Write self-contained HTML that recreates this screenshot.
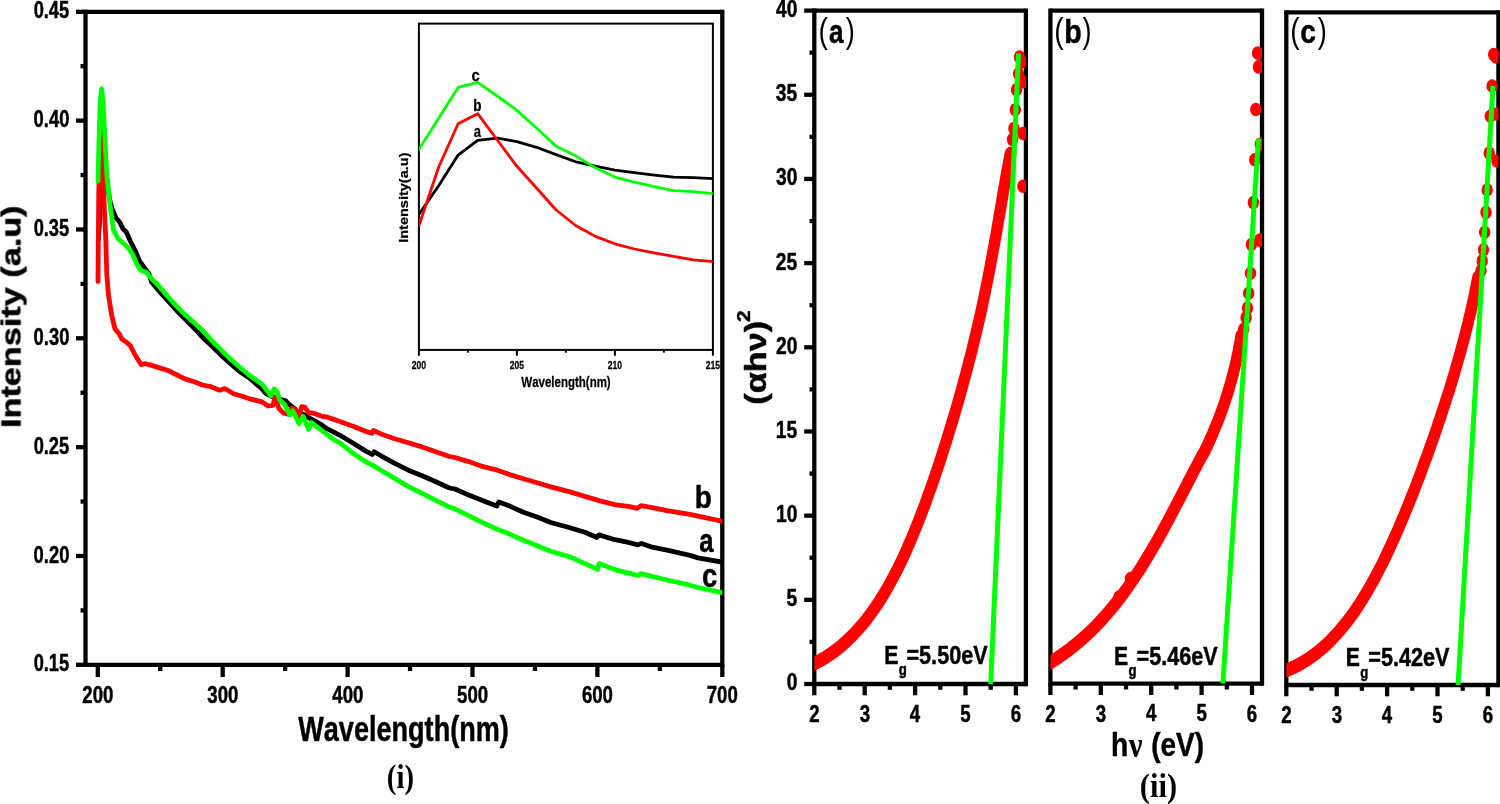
<!DOCTYPE html>
<html><head><meta charset="utf-8"><style>
html,body{margin:0;padding:0;background:#fff;}
body{width:1500px;height:804px;overflow:hidden;}
svg{display:block;}
text{font-kerning:none;}
</style></head><body>
<svg width="1500" height="804" viewBox="0 0 1500 804">
<rect x="0" y="0" width="1500" height="804" fill="#fff"/>
<g opacity="0.999">
<clipPath id="c1"><rect x="85.5" y="11.8" width="636.8" height="653.0"/></clipPath>
<line x1="85.50" y1="11.80" x2="722.30" y2="11.80" stroke="#000" stroke-width="4.3" stroke-linecap="butt"/>
<line x1="85.50" y1="664.80" x2="722.30" y2="664.80" stroke="#000" stroke-width="4.3" stroke-linecap="butt"/>
<line x1="85.50" y1="9.65" x2="85.50" y2="666.95" stroke="#000" stroke-width="4.3" stroke-linecap="butt"/>
<line x1="722.30" y1="9.65" x2="722.30" y2="666.95" stroke="#000" stroke-width="4.3" stroke-linecap="butt"/>
<line x1="76.00" y1="664.80" x2="85.50" y2="664.80" stroke="#000" stroke-width="4.3" stroke-linecap="butt"/>
<line x1="80.50" y1="610.38" x2="85.50" y2="610.38" stroke="#000" stroke-width="4.3" stroke-linecap="butt"/>
<line x1="76.00" y1="555.97" x2="85.50" y2="555.97" stroke="#000" stroke-width="4.3" stroke-linecap="butt"/>
<line x1="80.50" y1="501.55" x2="85.50" y2="501.55" stroke="#000" stroke-width="4.3" stroke-linecap="butt"/>
<line x1="76.00" y1="447.13" x2="85.50" y2="447.13" stroke="#000" stroke-width="4.3" stroke-linecap="butt"/>
<line x1="80.50" y1="392.72" x2="85.50" y2="392.72" stroke="#000" stroke-width="4.3" stroke-linecap="butt"/>
<line x1="76.00" y1="338.30" x2="85.50" y2="338.30" stroke="#000" stroke-width="4.3" stroke-linecap="butt"/>
<line x1="80.50" y1="283.88" x2="85.50" y2="283.88" stroke="#000" stroke-width="4.3" stroke-linecap="butt"/>
<line x1="76.00" y1="229.47" x2="85.50" y2="229.47" stroke="#000" stroke-width="4.3" stroke-linecap="butt"/>
<line x1="80.50" y1="175.05" x2="85.50" y2="175.05" stroke="#000" stroke-width="4.3" stroke-linecap="butt"/>
<line x1="76.00" y1="120.63" x2="85.50" y2="120.63" stroke="#000" stroke-width="4.3" stroke-linecap="butt"/>
<line x1="80.50" y1="66.22" x2="85.50" y2="66.22" stroke="#000" stroke-width="4.3" stroke-linecap="butt"/>
<line x1="76.00" y1="11.80" x2="85.50" y2="11.80" stroke="#000" stroke-width="4.3" stroke-linecap="butt"/>
<line x1="97.80" y1="664.80" x2="97.80" y2="677.00" stroke="#000" stroke-width="4.3" stroke-linecap="butt"/>
<line x1="222.70" y1="664.80" x2="222.70" y2="677.00" stroke="#000" stroke-width="4.3" stroke-linecap="butt"/>
<line x1="347.60" y1="664.80" x2="347.60" y2="677.00" stroke="#000" stroke-width="4.3" stroke-linecap="butt"/>
<line x1="472.50" y1="664.80" x2="472.50" y2="677.00" stroke="#000" stroke-width="4.3" stroke-linecap="butt"/>
<line x1="597.40" y1="664.80" x2="597.40" y2="677.00" stroke="#000" stroke-width="4.3" stroke-linecap="butt"/>
<line x1="722.30" y1="664.80" x2="722.30" y2="677.00" stroke="#000" stroke-width="4.3" stroke-linecap="butt"/>
<line x1="160.25" y1="664.80" x2="160.25" y2="671.00" stroke="#000" stroke-width="4.3" stroke-linecap="butt"/>
<line x1="285.15" y1="664.80" x2="285.15" y2="671.00" stroke="#000" stroke-width="4.3" stroke-linecap="butt"/>
<line x1="410.05" y1="664.80" x2="410.05" y2="671.00" stroke="#000" stroke-width="4.3" stroke-linecap="butt"/>
<line x1="534.95" y1="664.80" x2="534.95" y2="671.00" stroke="#000" stroke-width="4.3" stroke-linecap="butt"/>
<line x1="659.85" y1="664.80" x2="659.85" y2="671.00" stroke="#000" stroke-width="4.3" stroke-linecap="butt"/>
<g clip-path="url(#c1)">
<path d="M98.3,240.0 L100.0,215.0 L101.5,195.0 L102.3,165.0 L103.0,150.0 L104.5,160.0 L107.0,180.0 L109.7,200.0 L112.0,208.5 L116.0,218.0 L120.0,222.5 L123.0,229.0 L126.3,232.0 L129.8,240.0 L135.1,250.5 L139.4,260.9 L143.8,267.0 L149.0,274.0 L151.7,282.2 L160.5,292.6 L169.2,302.2 L177.9,311.8 L186.6,320.5 L195.3,329.2 L204.0,338.8 L212.7,346.7 L221.4,355.4 L230.1,363.2 L238.9,371.0 L249.3,378.0 L262.0,388.9 L266.1,393.7 L272.0,396.5 L278.0,398.5 L283.0,400.0 L285.3,400.5 L289.4,404.7 L294.9,408.8 L299.0,415.6 L303.1,414.2 L310.0,418.4 L322.0,425.2 L325.8,428.0 L340.0,435.3 L353.7,443.5 L364.6,450.4 L372.1,454.5 L374.2,451.7 L381.0,455.8 L394.7,463.4 L408.4,470.2 L422.1,475.7 L435.8,481.8 L449.4,488.0 L455.0,489.0 L468.7,495.1 L482.4,500.6 L496.7,506.1 L498.8,502.0 L509.7,506.1 L523.4,512.2 L537.1,517.0 L550.8,522.5 L570.0,527.8 L584.9,532.2 L596.9,537.5 L599.1,534.9 L614.8,539.7 L629.7,542.7 L637.9,544.9 L641.6,543.4 L652.1,547.2 L667.0,550.1 L690.0,555.4 L698.0,557.9 L723.0,562.3" fill="none" stroke="#000" stroke-width="4.8" stroke-linejoin="round" stroke-linecap="round" />
<path d="M98.0,281.5 L98.3,240.0 L98.8,190.0 L100.5,150.0 L101.8,131.0 L103.0,160.0 L104.0,200.0 L105.8,240.0 L106.8,274.8 L108.6,295.7 L111.6,314.9 L115.0,328.9 L119.4,334.1 L122.0,339.3 L127.2,342.8 L130.7,346.3 L135.1,355.0 L141.2,364.6 L145.5,363.7 L150.0,364.9 L158.7,367.6 L167.4,370.2 L176.1,374.5 L184.8,378.9 L193.6,381.5 L202.3,385.0 L211.0,386.7 L219.7,390.2 L224.9,388.5 L233.6,393.7 L242.3,396.3 L250.0,398.9 L262.0,401.9 L268.2,406.0 L273.0,405.3 L275.0,397.1 L279.1,408.8 L283.2,412.9 L288.0,414.2 L292.1,408.1 L296.2,410.8 L299.0,417.0 L301.7,406.7 L305.2,407.4 L308.6,412.9 L312.7,412.9 L322.0,416.3 L325.8,416.7 L340.0,421.6 L353.7,426.4 L367.4,431.9 L372.1,433.3 L373.5,430.5 L381.0,433.9 L394.7,438.7 L408.4,442.8 L422.1,446.9 L435.8,451.7 L449.4,456.5 L455.0,457.5 L468.7,461.6 L482.4,466.4 L496.0,469.8 L509.7,474.6 L523.4,478.7 L537.1,482.8 L550.8,486.9 L570.0,491.9 L584.9,496.4 L599.9,500.9 L614.8,504.6 L629.7,506.6 L637.2,508.4 L640.9,505.7 L652.1,507.6 L667.0,510.6 L690.0,514.3 L698.0,516.1 L723.0,521.4" fill="none" stroke="#ff0000" stroke-width="4.8" stroke-linejoin="round" stroke-linecap="round" />
<path d="M98.0,181.0 L99.0,140.0 L100.3,100.0 L101.7,89.0 L103.0,100.0 L104.5,130.0 L106.0,160.0 L107.2,180.0 L110.7,210.0 L113.5,230.0 L118.0,238.7 L122.0,242.0 L126.0,245.6 L128.1,247.8 L132.5,253.9 L136.8,264.4 L141.2,270.5 L146.4,272.2 L150.0,277.0 L158.7,285.7 L167.4,296.1 L176.1,305.7 L184.8,314.4 L193.6,322.3 L202.3,330.1 L211.0,339.7 L219.7,348.4 L228.4,357.1 L237.1,365.0 L248.4,374.5 L262.0,384.1 L270.9,395.8 L274.0,388.9 L277.1,391.6 L279.8,399.9 L284.6,404.7 L290.1,414.9 L292.8,410.8 L299.0,423.8 L303.1,416.3 L308.6,429.3 L311.3,422.5 L322.0,430.7 L334.5,440.2 L340.0,442.8 L353.7,453.8 L367.4,462.7 L374.2,466.1 L381.0,470.2 L394.7,478.4 L408.4,486.6 L422.1,493.4 L435.8,500.3 L449.4,507.1 L455.0,508.8 L468.7,515.7 L482.4,522.5 L496.0,528.7 L509.7,534.1 L523.4,540.3 L537.1,545.8 L550.8,551.2 L570.0,556.9 L584.9,563.6 L597.6,569.3 L599.1,563.6 L614.8,569.6 L629.7,573.3 L637.9,575.5 L640.9,573.7 L652.1,576.3 L667.0,580.0 L690.0,585.2 L698.0,587.5 L723.0,592.8" fill="none" stroke="#00ff00" stroke-width="4.8" stroke-linejoin="round" stroke-linecap="round" />
</g>
<text transform="translate(33.63,671.42) scale(0.7512,1)" style="font-family:'Liberation Sans', sans-serif;font-weight:bold;font-style:normal;font-size:24.300px" fill="#000" stroke="#000" stroke-width="0.5" stroke-linejoin="round">0.15</text>
<text transform="translate(33.62,562.58) scale(0.7566,1)" style="font-family:'Liberation Sans', sans-serif;font-weight:bold;font-style:normal;font-size:24.300px" fill="#000" stroke="#000" stroke-width="0.5" stroke-linejoin="round">0.20</text>
<text transform="translate(33.63,453.75) scale(0.7512,1)" style="font-family:'Liberation Sans', sans-serif;font-weight:bold;font-style:normal;font-size:24.300px" fill="#000" stroke="#000" stroke-width="0.5" stroke-linejoin="round">0.25</text>
<text transform="translate(33.62,344.92) scale(0.7566,1)" style="font-family:'Liberation Sans', sans-serif;font-weight:bold;font-style:normal;font-size:24.300px" fill="#000" stroke="#000" stroke-width="0.5" stroke-linejoin="round">0.30</text>
<text transform="translate(33.63,236.08) scale(0.7512,1)" style="font-family:'Liberation Sans', sans-serif;font-weight:bold;font-style:normal;font-size:24.300px" fill="#000" stroke="#000" stroke-width="0.5" stroke-linejoin="round">0.35</text>
<text transform="translate(33.62,127.25) scale(0.7566,1)" style="font-family:'Liberation Sans', sans-serif;font-weight:bold;font-style:normal;font-size:24.300px" fill="#000" stroke="#000" stroke-width="0.5" stroke-linejoin="round">0.40</text>
<text transform="translate(33.63,18.42) scale(0.7512,1)" style="font-family:'Liberation Sans', sans-serif;font-weight:bold;font-style:normal;font-size:24.300px" fill="#000" stroke="#000" stroke-width="0.5" stroke-linejoin="round">0.45</text>
<text transform="translate(82.31,703.02) scale(0.8000,1)" style="font-family:'Liberation Sans', sans-serif;font-weight:bold;font-style:normal;font-size:23.300px" fill="#000" stroke="#000" stroke-width="0.5" stroke-linejoin="round">200</text>
<text transform="translate(207.32,703.02) scale(0.8000,1)" style="font-family:'Liberation Sans', sans-serif;font-weight:bold;font-style:normal;font-size:23.300px" fill="#000" stroke="#000" stroke-width="0.5" stroke-linejoin="round">300</text>
<text transform="translate(332.29,703.02) scale(0.8000,1)" style="font-family:'Liberation Sans', sans-serif;font-weight:bold;font-style:normal;font-size:23.300px" fill="#000" stroke="#000" stroke-width="0.5" stroke-linejoin="round">400</text>
<text transform="translate(457.05,703.02) scale(0.8000,1)" style="font-family:'Liberation Sans', sans-serif;font-weight:bold;font-style:normal;font-size:23.300px" fill="#000" stroke="#000" stroke-width="0.5" stroke-linejoin="round">500</text>
<text transform="translate(581.89,703.02) scale(0.8000,1)" style="font-family:'Liberation Sans', sans-serif;font-weight:bold;font-style:normal;font-size:23.300px" fill="#000" stroke="#000" stroke-width="0.5" stroke-linejoin="round">600</text>
<text transform="translate(706.73,703.02) scale(0.8000,1)" style="font-family:'Liberation Sans', sans-serif;font-weight:bold;font-style:normal;font-size:23.300px" fill="#000" stroke="#000" stroke-width="0.5" stroke-linejoin="round">700</text>
<text transform="translate(298.22,740.97) scale(0.7630,1)" style="font-family:'Liberation Sans', sans-serif;font-weight:bold;font-style:normal;font-size:35.500px" fill="#000" stroke="#000" stroke-width="0.5" stroke-linejoin="round">Wavelength(nm)</text>
<text transform="translate(20.50,427.99) rotate(-90) scale(1.2235,1)" style="font-family:'Liberation Sans', sans-serif;font-weight:bold;font-size:28.0px" stroke="#000" stroke-width="0.5" stroke-linejoin="round">Intensity (a.u)</text>
<text transform="translate(386.84,788.00) scale(0.8379,1)" style="font-family:'Liberation Serif', serif;font-weight:bold;font-style:normal;font-size:34.299px" fill="#000">(i)</text>
<text transform="translate(694.71,507.84) scale(0.8782,1)" style="font-family:'Liberation Sans', sans-serif;font-weight:bold;font-style:normal;font-size:31.864px" fill="#000" stroke="#000" stroke-width="0.5" stroke-linejoin="round">b</text>
<text transform="translate(699.20,551.83) scale(0.7734,1)" style="font-family:'Liberation Sans', sans-serif;font-weight:bold;font-style:normal;font-size:33.221px" fill="#000" stroke="#000" stroke-width="0.5" stroke-linejoin="round">a</text>
<text transform="translate(701.88,586.93) scale(0.8269,1)" style="font-family:'Liberation Sans', sans-serif;font-weight:bold;font-style:normal;font-size:33.221px" fill="#000" stroke="#000" stroke-width="0.5" stroke-linejoin="round">c</text>
<rect x="418.9" y="23.6" width="294.0" height="326.29999999999995" fill="#fff" stroke="none"/>
<clipPath id="ci"><rect x="418.9" y="23.6" width="294.0" height="326.29999999999995"/></clipPath>
<rect x="418.9" y="23.6" width="294.0" height="326.29999999999995" fill="none" stroke="#000" stroke-width="2"/>
<g clip-path="url(#ci)">
<path d="M418.9,214.5 L438.5,186.0 L458.1,155.1 L477.7,140.3 L497.3,138.2 L516.9,141.7 L536.5,147.3 L556.1,154.6 L575.7,161.8 L595.3,166.2 L614.9,170.1 L634.5,172.7 L654.1,175.1 L673.7,177.1 L693.3,177.7 L712.9,178.7" fill="none" stroke="#000" stroke-width="2.8" stroke-linejoin="round" stroke-linecap="round" />
<path d="M418.9,225.7 L438.5,167.5 L458.1,123.8 L477.7,113.7 L497.3,140.0 L516.9,166.3 L536.5,188.0 L556.1,210.0 L575.7,225.5 L595.3,236.4 L614.9,243.8 L634.5,249.0 L654.1,252.9 L673.7,256.3 L693.3,259.9 L712.9,261.7" fill="none" stroke="#ff0000" stroke-width="2.8" stroke-linejoin="round" stroke-linecap="round" />
<path d="M418.9,149.5 L438.5,118.5 L458.1,87.4 L477.7,82.4 L497.3,96.0 L516.9,110.4 L536.5,128.0 L556.1,146.2 L575.7,155.8 L595.3,167.8 L614.9,177.1 L634.5,182.1 L654.1,186.7 L673.7,190.6 L693.3,191.6 L712.9,193.6" fill="none" stroke="#00ff00" stroke-width="2.8" stroke-linejoin="round" stroke-linecap="round" />
</g>
<line x1="418.90" y1="349.90" x2="418.90" y2="355.70" stroke="#000" stroke-width="2" stroke-linecap="butt"/>
<line x1="516.90" y1="349.90" x2="516.90" y2="355.70" stroke="#000" stroke-width="2" stroke-linecap="butt"/>
<line x1="614.90" y1="349.90" x2="614.90" y2="355.70" stroke="#000" stroke-width="2" stroke-linecap="butt"/>
<line x1="712.90" y1="349.90" x2="712.90" y2="355.70" stroke="#000" stroke-width="2" stroke-linecap="butt"/>
<line x1="467.90" y1="349.90" x2="467.90" y2="352.70" stroke="#000" stroke-width="2" stroke-linecap="butt"/>
<line x1="565.90" y1="349.90" x2="565.90" y2="352.70" stroke="#000" stroke-width="2" stroke-linecap="butt"/>
<line x1="663.90" y1="349.90" x2="663.90" y2="352.70" stroke="#000" stroke-width="2" stroke-linecap="butt"/>
<text transform="translate(411.78,368.64) scale(0.7400,1)" style="font-family:'Liberation Sans', sans-serif;font-weight:bold;font-style:normal;font-size:11.582px" fill="#000" stroke="#000" stroke-width="0.3" stroke-linejoin="round">200</text>
<text transform="translate(509.72,368.64) scale(0.7400,1)" style="font-family:'Liberation Sans', sans-serif;font-weight:bold;font-style:normal;font-size:11.582px" fill="#000" stroke="#000" stroke-width="0.3" stroke-linejoin="round">205</text>
<text transform="translate(607.78,368.64) scale(0.7400,1)" style="font-family:'Liberation Sans', sans-serif;font-weight:bold;font-style:normal;font-size:11.582px" fill="#000" stroke="#000" stroke-width="0.3" stroke-linejoin="round">210</text>
<text transform="translate(705.72,368.64) scale(0.7400,1)" style="font-family:'Liberation Sans', sans-serif;font-weight:bold;font-style:normal;font-size:11.582px" fill="#000" stroke="#000" stroke-width="0.3" stroke-linejoin="round">215</text>
<text transform="translate(521.34,387.04) scale(0.7520,1)" style="font-family:'Liberation Sans', sans-serif;font-weight:bold;font-style:normal;font-size:15.300px" fill="#000" stroke="#000" stroke-width="0.3" stroke-linejoin="round">Wavelength(nm)</text>
<text transform="translate(407.6,242.87) rotate(-90) scale(1.1018,1)" style="font-family:'Liberation Sans', sans-serif;font-weight:bold;font-size:13.2px" stroke="#000" stroke-width="0.25" stroke-linejoin="round">Intensity(a.u)</text>
<text transform="translate(471.47,80.60) scale(0.9403,1)" style="font-family:'Liberation Sans', sans-serif;font-weight:bold;font-style:normal;font-size:15.698px" fill="#000" stroke="#000" stroke-width="0.3" stroke-linejoin="round">c</text>
<text transform="translate(473.16,110.90) scale(0.8543,1)" style="font-family:'Liberation Sans', sans-serif;font-weight:bold;font-style:normal;font-size:15.796px" fill="#000" stroke="#000" stroke-width="0.3" stroke-linejoin="round">b</text>
<text transform="translate(473.87,136.79) scale(0.8149,1)" style="font-family:'Liberation Sans', sans-serif;font-weight:bold;font-style:normal;font-size:15.880px" fill="#000" stroke="#000" stroke-width="0.3" stroke-linejoin="round">a</text>
<clipPath id="cp0"><rect x="814.3" y="10.6" width="211.60000000000014" height="673.4"/></clipPath>
<line x1="814.30" y1="10.60" x2="1025.90" y2="10.60" stroke="#000" stroke-width="4.3" stroke-linecap="butt"/>
<line x1="814.30" y1="684.00" x2="1025.90" y2="684.00" stroke="#000" stroke-width="4.3" stroke-linecap="butt"/>
<line x1="814.30" y1="8.45" x2="814.30" y2="686.15" stroke="#000" stroke-width="4.3" stroke-linecap="butt"/>
<line x1="1025.90" y1="8.45" x2="1025.90" y2="686.15" stroke="#000" stroke-width="4.3" stroke-linecap="butt"/>
<g clip-path="url(#cp0)">
<g transform="scale(1,1.1930)">
<path d="M803.6,560.3 L810.8,557.7 L817.7,554.8 L824.2,551.7 L830.4,548.3 L836.3,544.7 L841.9,540.9 L847.3,536.9 L852.4,532.7 L857.3,528.3 L862.0,523.8 L866.5,519.2 L870.8,514.4 L874.9,509.6 L878.9,504.6 L882.7,499.5 L886.4,494.3 L889.9,489.1 L893.3,483.8 L896.7,478.4 L899.9,473.0 L903.0,467.5 L906.0,462.0 L908.9,456.4 L911.8,450.8 L914.5,445.2 L917.3,439.5 L919.9,433.9 L922.5,428.2 L925.1,422.5 L927.5,416.7 L930.0,411.0 L932.4,405.3 L934.8,399.5 L937.1,393.8 L939.4,388.0 L941.6,382.3 L943.8,376.5 L946.0,370.7 L948.1,365.0 L950.2,359.2 L952.3,353.4 L954.4,347.6 L956.4,341.9 L958.4,336.1 L960.3,330.3 L962.2,324.5 L964.1,318.7 L966.0,312.9 L967.8,307.1 L969.6,301.2 L971.4,295.4 L973.1,289.6 L974.8,283.7 L976.5,277.9 L978.1,272.0 L979.7,266.1 L981.3,260.2 L982.8,254.3 L984.3,248.4 L985.7,242.4 L987.2,236.5 L988.6,230.5 L990.0,224.5 L991.3,218.5 L992.6,212.6 L993.9,206.6 L995.2,200.6 L996.5,194.6 L997.7,188.5 L998.9,182.5 L1000.2,176.5 L1001.4,170.6 L1002.6,164.6 L1003.8,158.6 L1005.1,152.7 L1006.3,146.8 L1007.6,140.9 L1008.9,135.1 L1010.2,129.3" fill="none" stroke="#ff0000" stroke-width="11.4" stroke-linejoin="round" stroke-linecap="round" />
</g>
<ellipse cx="1010.9" cy="153.4" rx="5.7" ry="6.8" fill="#ff0000"/>
<ellipse cx="1012.5" cy="139.5" rx="5.7" ry="6.8" fill="#ff0000"/>
<ellipse cx="1013.9" cy="128.6" rx="5.7" ry="6.8" fill="#ff0000"/>
<ellipse cx="1015.3" cy="109.7" rx="5.7" ry="6.8" fill="#ff0000"/>
<ellipse cx="1016.5" cy="89.8" rx="5.7" ry="6.8" fill="#ff0000"/>
<ellipse cx="1018.5" cy="73.8" rx="5.7" ry="6.8" fill="#ff0000"/>
<ellipse cx="1019.5" cy="57.0" rx="5.7" ry="6.8" fill="#ff0000"/>
<ellipse cx="1022.0" cy="62.0" rx="5.7" ry="6.8" fill="#ff0000"/>
<ellipse cx="1022.9" cy="81.8" rx="5.7" ry="6.8" fill="#ff0000"/>
<ellipse cx="1022.9" cy="133.5" rx="5.7" ry="6.8" fill="#ff0000"/>
<ellipse cx="1022.9" cy="186.3" rx="5.7" ry="6.8" fill="#ff0000"/>
<line x1="990.70" y1="684.00" x2="1018.50" y2="53.50" stroke="#00ff00" stroke-width="5.0" stroke-linecap="butt"/>
</g>
<line x1="814.30" y1="684.00" x2="814.30" y2="695.30" stroke="#000" stroke-width="4.3" stroke-linecap="butt"/>
<text transform="translate(809.17,721.82) scale(0.8000,1)" style="font-family:'Liberation Sans', sans-serif;font-weight:bold;font-style:normal;font-size:23.300px" fill="#000" stroke="#000" stroke-width="0.5" stroke-linejoin="round">2</text>
<line x1="864.70" y1="684.00" x2="864.70" y2="695.30" stroke="#000" stroke-width="4.3" stroke-linecap="butt"/>
<text transform="translate(859.64,721.82) scale(0.8000,1)" style="font-family:'Liberation Sans', sans-serif;font-weight:bold;font-style:normal;font-size:23.300px" fill="#000" stroke="#000" stroke-width="0.5" stroke-linejoin="round">3</text>
<line x1="915.10" y1="684.00" x2="915.10" y2="695.30" stroke="#000" stroke-width="4.3" stroke-linecap="butt"/>
<text transform="translate(909.83,721.58) scale(0.8000,1)" style="font-family:'Liberation Sans', sans-serif;font-weight:bold;font-style:normal;font-size:23.300px" fill="#000" stroke="#000" stroke-width="0.5" stroke-linejoin="round">4</text>
<line x1="965.50" y1="684.00" x2="965.50" y2="695.30" stroke="#000" stroke-width="4.3" stroke-linecap="butt"/>
<text transform="translate(960.29,721.58) scale(0.8000,1)" style="font-family:'Liberation Sans', sans-serif;font-weight:bold;font-style:normal;font-size:23.300px" fill="#000" stroke="#000" stroke-width="0.5" stroke-linejoin="round">5</text>
<line x1="1015.90" y1="684.00" x2="1015.90" y2="695.30" stroke="#000" stroke-width="4.3" stroke-linecap="butt"/>
<text transform="translate(1010.71,721.82) scale(0.8000,1)" style="font-family:'Liberation Sans', sans-serif;font-weight:bold;font-style:normal;font-size:23.300px" fill="#000" stroke="#000" stroke-width="0.5" stroke-linejoin="round">6</text>
<line x1="839.50" y1="684.00" x2="839.50" y2="689.80" stroke="#000" stroke-width="4.3" stroke-linecap="butt"/>
<line x1="889.90" y1="684.00" x2="889.90" y2="689.80" stroke="#000" stroke-width="4.3" stroke-linecap="butt"/>
<line x1="940.30" y1="684.00" x2="940.30" y2="689.80" stroke="#000" stroke-width="4.3" stroke-linecap="butt"/>
<line x1="990.70" y1="684.00" x2="990.70" y2="689.80" stroke="#000" stroke-width="4.3" stroke-linecap="butt"/>
<text transform="translate(818.45,42.56) scale(0.8084,1)" style="font-family:'Liberation Sans', sans-serif;font-weight:normal;font-style:normal;font-size:34.992px" fill="#000">(</text>
<text transform="translate(828.99,42.73) scale(0.7847,1)" style="font-family:'Liberation Sans', sans-serif;font-weight:bold;font-style:normal;font-size:33.221px" fill="#000" stroke="#000" stroke-width="0.5" stroke-linejoin="round">a</text>
<text transform="translate(845.84,42.56) scale(0.7761,1)" style="font-family:'Liberation Sans', sans-serif;font-weight:normal;font-style:normal;font-size:34.992px" fill="#000">)</text>
<text transform="translate(884.23,664.00) scale(0.8000,1)" style="font-family:'Liberation Sans', sans-serif;font-weight:bold;font-style:normal;font-size:26.500px" fill="#000" stroke="#000" stroke-width="0.5" stroke-linejoin="round">E</text>
<text transform="translate(898.71,675.40) scale(0.8000,1)" style="font-family:'Liberation Sans', sans-serif;font-weight:bold;font-style:normal;font-size:16.500px" fill="#000" stroke="#000" stroke-width="0.5" stroke-linejoin="round">g</text>
<text transform="translate(906.45,664.00) scale(0.8168,1)" style="font-family:'Liberation Sans', sans-serif;font-weight:bold;font-style:normal;font-size:26.500px" fill="#000" stroke="#000" stroke-width="0.5" stroke-linejoin="round">=5.50eV</text>
<clipPath id="cp1"><rect x="1050.4" y="10.6" width="211.5999999999999" height="673.1"/></clipPath>
<line x1="1050.40" y1="10.60" x2="1262.00" y2="10.60" stroke="#000" stroke-width="4.3" stroke-linecap="butt"/>
<line x1="1050.40" y1="683.70" x2="1262.00" y2="683.70" stroke="#000" stroke-width="4.3" stroke-linecap="butt"/>
<line x1="1050.40" y1="8.45" x2="1050.40" y2="685.85" stroke="#000" stroke-width="4.3" stroke-linecap="butt"/>
<line x1="1262.00" y1="8.45" x2="1262.00" y2="685.85" stroke="#000" stroke-width="4.3" stroke-linecap="butt"/>
<g clip-path="url(#cp1)">
<g transform="scale(1,1.1930)">
<path d="M1041.3,559.6 L1044.4,558.2 L1047.5,556.7 L1050.5,555.2 L1053.4,553.7 L1056.4,552.1 L1059.3,550.5 L1062.1,548.8 L1064.9,547.2 L1067.7,545.4 L1070.4,543.7 L1073.1,541.9 L1075.8,540.1 L1078.4,538.3 L1081.0,536.4 L1083.6,534.5 L1086.1,532.6 L1088.6,530.7 L1091.1,528.7 L1093.5,526.7 L1095.9,524.7 L1098.2,522.6 L1100.6,520.6 L1102.9,518.5 L1105.1,516.3 L1107.4,514.2 L1109.6,512.0 L1111.8,509.8 L1114.0,507.6 L1116.1,505.4 L1118.2,503.1 L1120.3,500.9 L1122.3,498.6 L1124.4,496.3 L1126.4,494.0 L1128.4,491.6 L1130.3,489.3 L1132.3,486.9 L1134.2,484.5 L1136.1,482.1 L1138.0,479.7 L1139.9,477.3 L1141.7,474.9 L1143.5,472.4 L1145.4,469.9 L1147.1,467.5 L1148.9,465.0 L1150.7,462.5 L1152.4,460.0 L1154.2,457.5 L1155.9,455.0 L1157.6,452.5 L1159.3,449.9 L1161.0,447.4 L1162.6,444.9 L1164.3,442.3 L1165.9,439.8 L1167.6,437.2 L1169.2,434.7 L1170.8,432.1 L1172.4,429.5 L1174.0,427.0 L1175.6,424.4 L1177.2,421.9 L1178.8,419.3 L1180.4,416.8 L1182.0,414.2 L1183.5,411.6 L1185.1,409.1 L1186.7,406.6 L1188.2,404.0 L1189.8,401.5 L1191.4,398.9 L1192.9,396.4 L1194.5,393.9 L1196.1,391.4 L1197.6,388.9 L1199.2,386.4 L1200.8,383.9 L1202.3,381.4 L1203.5,380.2 L1204.2,379.0 L1204.9,377.8 L1205.6,376.6 L1206.2,375.4 L1206.9,374.2 L1207.6,373.0 L1208.3,371.8 L1208.9,370.6 L1209.6,369.4 L1210.2,368.2 L1210.9,366.9 L1211.5,365.7 L1212.2,364.5 L1212.8,363.3 L1213.4,362.1 L1214.0,360.8 L1214.6,359.6 L1215.2,358.4 L1215.8,357.2 L1216.4,355.9 L1217.0,354.7 L1217.6,353.5 L1218.2,352.2 L1218.8,351.0 L1219.3,349.8 L1219.9,348.5 L1220.4,347.3 L1221.0,346.0 L1221.5,344.8 L1222.1,343.5 L1222.6,342.3 L1223.1,341.0 L1223.6,339.8 L1224.2,338.5 L1224.7,337.3 L1225.2,336.0 L1225.7,334.7 L1226.1,333.5 L1226.6,332.2 L1227.1,330.9 L1227.6,329.7 L1228.1,328.4 L1228.5,327.1 L1229.0,325.9 L1229.4,324.6 L1229.9,323.3 L1230.3,322.0 L1230.7,320.7 L1231.2,319.5 L1231.6,318.2 L1232.0,316.9 L1232.4,315.6 L1232.8,314.3 L1233.2,313.0 L1233.6,311.7 L1234.0,310.4 L1234.4,309.1 L1234.8,307.8 L1235.1,306.5 L1235.5,305.2 L1235.9,303.9 L1236.2,302.6 L1236.6,301.3 L1236.9,300.0 L1237.2,298.7 L1237.6,297.4 L1237.9,296.1 L1238.2,294.7 L1238.5,293.4 L1238.8,292.1 L1239.1,290.8 L1239.4,289.5 L1239.7,288.1 L1240.0,286.8 L1240.3,285.5 L1240.6,284.1 L1240.8,282.8 L1241.1,281.5" fill="none" stroke="#ff0000" stroke-width="11.4" stroke-linejoin="round" stroke-linecap="round" />
</g>
<ellipse cx="1243.7" cy="329.2" rx="5.7" ry="6.8" fill="#ff0000"/>
<ellipse cx="1246.1" cy="317.6" rx="5.7" ry="6.8" fill="#ff0000"/>
<ellipse cx="1247.5" cy="308.0" rx="5.7" ry="6.8" fill="#ff0000"/>
<ellipse cx="1248.7" cy="293.2" rx="5.7" ry="6.8" fill="#ff0000"/>
<ellipse cx="1250.5" cy="273.2" rx="5.7" ry="6.8" fill="#ff0000"/>
<ellipse cx="1251.4" cy="244.5" rx="5.7" ry="6.8" fill="#ff0000"/>
<ellipse cx="1259.7" cy="240.1" rx="5.7" ry="6.8" fill="#ff0000"/>
<ellipse cx="1253.4" cy="202.6" rx="5.7" ry="6.8" fill="#ff0000"/>
<ellipse cx="1254.7" cy="159.8" rx="5.7" ry="6.8" fill="#ff0000"/>
<ellipse cx="1260.3" cy="144.2" rx="5.7" ry="6.8" fill="#ff0000"/>
<ellipse cx="1255.8" cy="109.5" rx="5.7" ry="6.8" fill="#ff0000"/>
<ellipse cx="1258.5" cy="66.9" rx="5.7" ry="6.8" fill="#ff0000"/>
<ellipse cx="1257.6" cy="53.1" rx="5.7" ry="6.8" fill="#ff0000"/>
<ellipse cx="1119.0" cy="597.0" rx="5.7" ry="6.8" fill="#ff0000"/>
<ellipse cx="1130.5" cy="578.5" rx="5.7" ry="6.8" fill="#ff0000"/>
<line x1="1222.90" y1="683.70" x2="1258.50" y2="138.60" stroke="#00ff00" stroke-width="5.0" stroke-linecap="butt"/>
</g>
<line x1="1050.40" y1="683.70" x2="1050.40" y2="695.00" stroke="#000" stroke-width="4.3" stroke-linecap="butt"/>
<text transform="translate(1045.27,721.52) scale(0.8000,1)" style="font-family:'Liberation Sans', sans-serif;font-weight:bold;font-style:normal;font-size:23.300px" fill="#000" stroke="#000" stroke-width="0.5" stroke-linejoin="round">2</text>
<line x1="1100.80" y1="683.70" x2="1100.80" y2="695.00" stroke="#000" stroke-width="4.3" stroke-linecap="butt"/>
<text transform="translate(1095.74,721.52) scale(0.8000,1)" style="font-family:'Liberation Sans', sans-serif;font-weight:bold;font-style:normal;font-size:23.300px" fill="#000" stroke="#000" stroke-width="0.5" stroke-linejoin="round">3</text>
<line x1="1151.20" y1="683.70" x2="1151.20" y2="695.00" stroke="#000" stroke-width="4.3" stroke-linecap="butt"/>
<text transform="translate(1145.93,721.28) scale(0.8000,1)" style="font-family:'Liberation Sans', sans-serif;font-weight:bold;font-style:normal;font-size:23.300px" fill="#000" stroke="#000" stroke-width="0.5" stroke-linejoin="round">4</text>
<line x1="1201.60" y1="683.70" x2="1201.60" y2="695.00" stroke="#000" stroke-width="4.3" stroke-linecap="butt"/>
<text transform="translate(1196.39,721.28) scale(0.8000,1)" style="font-family:'Liberation Sans', sans-serif;font-weight:bold;font-style:normal;font-size:23.300px" fill="#000" stroke="#000" stroke-width="0.5" stroke-linejoin="round">5</text>
<line x1="1252.00" y1="683.70" x2="1252.00" y2="695.00" stroke="#000" stroke-width="4.3" stroke-linecap="butt"/>
<text transform="translate(1246.81,721.52) scale(0.8000,1)" style="font-family:'Liberation Sans', sans-serif;font-weight:bold;font-style:normal;font-size:23.300px" fill="#000" stroke="#000" stroke-width="0.5" stroke-linejoin="round">6</text>
<line x1="1075.60" y1="683.70" x2="1075.60" y2="689.50" stroke="#000" stroke-width="4.3" stroke-linecap="butt"/>
<line x1="1126.00" y1="683.70" x2="1126.00" y2="689.50" stroke="#000" stroke-width="4.3" stroke-linecap="butt"/>
<line x1="1176.40" y1="683.70" x2="1176.40" y2="689.50" stroke="#000" stroke-width="4.3" stroke-linecap="butt"/>
<line x1="1226.80" y1="683.70" x2="1226.80" y2="689.50" stroke="#000" stroke-width="4.3" stroke-linecap="butt"/>
<text transform="translate(1054.15,42.56) scale(0.8084,1)" style="font-family:'Liberation Sans', sans-serif;font-weight:normal;font-style:normal;font-size:34.992px" fill="#000">(</text>
<text transform="translate(1064.27,43.33) scale(0.8708,1)" style="font-family:'Liberation Sans', sans-serif;font-weight:bold;font-style:normal;font-size:32.817px" fill="#000" stroke="#000" stroke-width="0.5" stroke-linejoin="round">b</text>
<text transform="translate(1082.44,42.56) scale(0.7761,1)" style="font-family:'Liberation Sans', sans-serif;font-weight:normal;font-style:normal;font-size:34.992px" fill="#000">)</text>
<text transform="translate(1114.03,664.70) scale(0.8000,1)" style="font-family:'Liberation Sans', sans-serif;font-weight:bold;font-style:normal;font-size:26.500px" fill="#000" stroke="#000" stroke-width="0.5" stroke-linejoin="round">E</text>
<text transform="translate(1128.51,676.10) scale(0.8000,1)" style="font-family:'Liberation Sans', sans-serif;font-weight:bold;font-style:normal;font-size:16.500px" fill="#000" stroke="#000" stroke-width="0.5" stroke-linejoin="round">g</text>
<text transform="translate(1136.55,664.70) scale(0.8168,1)" style="font-family:'Liberation Sans', sans-serif;font-weight:bold;font-style:normal;font-size:26.500px" fill="#000" stroke="#000" stroke-width="0.5" stroke-linejoin="round">=5.46eV</text>
<clipPath id="cp2"><rect x="1286.3" y="12.3" width="212.10000000000014" height="672.7"/></clipPath>
<line x1="1286.30" y1="12.30" x2="1498.40" y2="12.30" stroke="#000" stroke-width="4.3" stroke-linecap="butt"/>
<line x1="1286.30" y1="685.00" x2="1498.40" y2="685.00" stroke="#000" stroke-width="4.3" stroke-linecap="butt"/>
<line x1="1286.30" y1="10.15" x2="1286.30" y2="687.15" stroke="#000" stroke-width="4.3" stroke-linecap="butt"/>
<line x1="1498.40" y1="10.15" x2="1498.40" y2="687.15" stroke="#000" stroke-width="4.3" stroke-linecap="butt"/>
<g clip-path="url(#cp2)">
<g transform="scale(1,1.1930)">
<path d="M1275.6,565.0 L1281.6,563.5 L1287.3,561.7 L1292.8,559.7 L1298.1,557.4 L1303.2,555.0 L1308.2,552.4 L1312.9,549.6 L1317.5,546.7 L1322.0,543.6 L1326.3,540.4 L1330.4,537.0 L1334.4,533.5 L1338.3,530.0 L1342.0,526.3 L1345.7,522.5 L1349.2,518.7 L1352.6,514.7 L1356.0,510.7 L1359.2,506.7 L1362.3,502.6 L1365.4,498.4 L1368.3,494.2 L1371.2,489.9 L1374.1,485.6 L1376.8,481.3 L1379.5,476.9 L1382.2,472.5 L1384.8,468.1 L1387.3,463.7 L1389.8,459.2 L1392.2,454.8 L1394.6,450.3 L1397.0,445.8 L1399.3,441.3 L1401.6,436.8 L1403.9,432.3 L1406.1,427.8 L1408.3,423.3 L1410.4,418.7 L1412.6,414.2 L1414.7,409.7 L1416.8,405.1 L1418.9,400.6 L1420.9,396.0 L1422.9,391.5 L1424.9,386.9 L1426.9,382.4 L1428.9,377.8 L1430.8,373.2 L1432.8,368.6 L1434.7,364.0 L1436.6,359.4 L1438.4,354.8 L1440.3,350.2 L1442.1,345.6 L1443.9,340.9 L1445.7,336.3 L1447.5,331.6 L1449.3,327.0 L1451.0,322.3 L1452.7,317.6 L1454.4,312.9 L1456.0,308.2 L1457.6,303.5 L1459.2,298.8 L1460.8,294.0 L1462.3,289.3 L1463.9,284.5 L1465.3,279.8 L1466.8,275.0 L1468.2,270.2 L1469.5,265.5 L1470.9,260.7 L1472.1,256.0 L1473.4,251.2 L1474.6,246.5 L1475.7,241.7 L1476.8,237.0 L1477.9,232.4" fill="none" stroke="#ff0000" stroke-width="11.4" stroke-linejoin="round" stroke-linecap="round" />
</g>
<ellipse cx="1481.0" cy="270.8" rx="5.7" ry="6.8" fill="#ff0000"/>
<ellipse cx="1482.2" cy="260.9" rx="5.7" ry="6.8" fill="#ff0000"/>
<ellipse cx="1483.5" cy="249.7" rx="5.7" ry="6.8" fill="#ff0000"/>
<ellipse cx="1484.7" cy="232.3" rx="5.7" ry="6.8" fill="#ff0000"/>
<ellipse cx="1486.0" cy="212.4" rx="5.7" ry="6.8" fill="#ff0000"/>
<ellipse cx="1487.2" cy="190.0" rx="5.7" ry="6.8" fill="#ff0000"/>
<ellipse cx="1489.2" cy="153.1" rx="5.7" ry="6.8" fill="#ff0000"/>
<ellipse cx="1497.0" cy="161.0" rx="5.7" ry="6.8" fill="#ff0000"/>
<ellipse cx="1490.3" cy="116.2" rx="5.7" ry="6.8" fill="#ff0000"/>
<ellipse cx="1496.6" cy="114.0" rx="5.7" ry="6.8" fill="#ff0000"/>
<ellipse cx="1492.1" cy="86.0" rx="5.7" ry="6.8" fill="#ff0000"/>
<ellipse cx="1493.7" cy="54.6" rx="5.7" ry="6.8" fill="#ff0000"/>
<ellipse cx="1495.9" cy="56.9" rx="5.7" ry="6.8" fill="#ff0000"/>
<line x1="1458.08" y1="685.00" x2="1493.00" y2="86.00" stroke="#00ff00" stroke-width="5.0" stroke-linecap="butt"/>
</g>
<line x1="1286.30" y1="685.00" x2="1286.30" y2="696.30" stroke="#000" stroke-width="4.3" stroke-linecap="butt"/>
<text transform="translate(1281.17,722.82) scale(0.8000,1)" style="font-family:'Liberation Sans', sans-serif;font-weight:bold;font-style:normal;font-size:23.300px" fill="#000" stroke="#000" stroke-width="0.5" stroke-linejoin="round">2</text>
<line x1="1336.70" y1="685.00" x2="1336.70" y2="696.30" stroke="#000" stroke-width="4.3" stroke-linecap="butt"/>
<text transform="translate(1331.64,722.82) scale(0.8000,1)" style="font-family:'Liberation Sans', sans-serif;font-weight:bold;font-style:normal;font-size:23.300px" fill="#000" stroke="#000" stroke-width="0.5" stroke-linejoin="round">3</text>
<line x1="1387.10" y1="685.00" x2="1387.10" y2="696.30" stroke="#000" stroke-width="4.3" stroke-linecap="butt"/>
<text transform="translate(1381.83,722.58) scale(0.8000,1)" style="font-family:'Liberation Sans', sans-serif;font-weight:bold;font-style:normal;font-size:23.300px" fill="#000" stroke="#000" stroke-width="0.5" stroke-linejoin="round">4</text>
<line x1="1437.50" y1="685.00" x2="1437.50" y2="696.30" stroke="#000" stroke-width="4.3" stroke-linecap="butt"/>
<text transform="translate(1432.29,722.58) scale(0.8000,1)" style="font-family:'Liberation Sans', sans-serif;font-weight:bold;font-style:normal;font-size:23.300px" fill="#000" stroke="#000" stroke-width="0.5" stroke-linejoin="round">5</text>
<line x1="1487.90" y1="685.00" x2="1487.90" y2="696.30" stroke="#000" stroke-width="4.3" stroke-linecap="butt"/>
<text transform="translate(1482.71,722.82) scale(0.8000,1)" style="font-family:'Liberation Sans', sans-serif;font-weight:bold;font-style:normal;font-size:23.300px" fill="#000" stroke="#000" stroke-width="0.5" stroke-linejoin="round">6</text>
<line x1="1311.50" y1="685.00" x2="1311.50" y2="690.80" stroke="#000" stroke-width="4.3" stroke-linecap="butt"/>
<line x1="1361.90" y1="685.00" x2="1361.90" y2="690.80" stroke="#000" stroke-width="4.3" stroke-linecap="butt"/>
<line x1="1412.30" y1="685.00" x2="1412.30" y2="690.80" stroke="#000" stroke-width="4.3" stroke-linecap="butt"/>
<line x1="1462.70" y1="685.00" x2="1462.70" y2="690.80" stroke="#000" stroke-width="4.3" stroke-linecap="butt"/>
<text transform="translate(1290.15,42.56) scale(0.8084,1)" style="font-family:'Liberation Sans', sans-serif;font-weight:normal;font-style:normal;font-size:34.992px" fill="#000">(</text>
<text transform="translate(1300.34,42.73) scale(0.8516,1)" style="font-family:'Liberation Sans', sans-serif;font-weight:bold;font-style:normal;font-size:33.221px" fill="#000" stroke="#000" stroke-width="0.5" stroke-linejoin="round">c</text>
<text transform="translate(1317.84,42.56) scale(0.7761,1)" style="font-family:'Liberation Sans', sans-serif;font-weight:normal;font-style:normal;font-size:34.992px" fill="#000">)</text>
<text transform="translate(1345.73,666.40) scale(0.8000,1)" style="font-family:'Liberation Sans', sans-serif;font-weight:bold;font-style:normal;font-size:26.500px" fill="#000" stroke="#000" stroke-width="0.5" stroke-linejoin="round">E</text>
<text transform="translate(1360.21,677.80) scale(0.8000,1)" style="font-family:'Liberation Sans', sans-serif;font-weight:bold;font-style:normal;font-size:16.500px" fill="#000" stroke="#000" stroke-width="0.5" stroke-linejoin="round">g</text>
<text transform="translate(1368.25,666.40) scale(0.8168,1)" style="font-family:'Liberation Sans', sans-serif;font-weight:bold;font-style:normal;font-size:26.500px" fill="#000" stroke="#000" stroke-width="0.5" stroke-linejoin="round">=5.42eV</text>
<line x1="804.20" y1="684.00" x2="814.30" y2="684.00" stroke="#000" stroke-width="4.3" stroke-linecap="butt"/>
<text transform="translate(786.66,690.41) scale(0.8000,1)" style="font-family:'Liberation Sans', sans-serif;font-weight:bold;font-style:normal;font-size:24.000px" fill="#000" stroke="#000" stroke-width="0.5" stroke-linejoin="round">0</text>
<line x1="804.20" y1="599.83" x2="814.30" y2="599.83" stroke="#000" stroke-width="4.3" stroke-linecap="butt"/>
<text transform="translate(786.41,605.99) scale(0.8000,1)" style="font-family:'Liberation Sans', sans-serif;font-weight:bold;font-style:normal;font-size:24.000px" fill="#000" stroke="#000" stroke-width="0.5" stroke-linejoin="round">5</text>
<line x1="804.20" y1="515.65" x2="814.30" y2="515.65" stroke="#000" stroke-width="4.3" stroke-linecap="butt"/>
<text transform="translate(775.98,522.06) scale(0.8000,1)" style="font-family:'Liberation Sans', sans-serif;font-weight:bold;font-style:normal;font-size:24.000px" fill="#000" stroke="#000" stroke-width="0.5" stroke-linejoin="round">10</text>
<line x1="804.20" y1="431.48" x2="814.30" y2="431.48" stroke="#000" stroke-width="4.3" stroke-linecap="butt"/>
<text transform="translate(775.73,437.64) scale(0.8000,1)" style="font-family:'Liberation Sans', sans-serif;font-weight:bold;font-style:normal;font-size:24.000px" fill="#000" stroke="#000" stroke-width="0.5" stroke-linejoin="round">15</text>
<line x1="804.20" y1="347.30" x2="814.30" y2="347.30" stroke="#000" stroke-width="4.3" stroke-linecap="butt"/>
<text transform="translate(775.98,353.71) scale(0.8000,1)" style="font-family:'Liberation Sans', sans-serif;font-weight:bold;font-style:normal;font-size:24.000px" fill="#000" stroke="#000" stroke-width="0.5" stroke-linejoin="round">20</text>
<line x1="804.20" y1="263.12" x2="814.30" y2="263.12" stroke="#000" stroke-width="4.3" stroke-linecap="butt"/>
<text transform="translate(775.73,269.53) scale(0.8000,1)" style="font-family:'Liberation Sans', sans-serif;font-weight:bold;font-style:normal;font-size:24.000px" fill="#000" stroke="#000" stroke-width="0.5" stroke-linejoin="round">25</text>
<line x1="804.20" y1="178.95" x2="814.30" y2="178.95" stroke="#000" stroke-width="4.3" stroke-linecap="butt"/>
<text transform="translate(775.98,185.36) scale(0.8000,1)" style="font-family:'Liberation Sans', sans-serif;font-weight:bold;font-style:normal;font-size:24.000px" fill="#000" stroke="#000" stroke-width="0.5" stroke-linejoin="round">30</text>
<line x1="804.20" y1="94.77" x2="814.30" y2="94.77" stroke="#000" stroke-width="4.3" stroke-linecap="butt"/>
<text transform="translate(775.73,101.18) scale(0.8000,1)" style="font-family:'Liberation Sans', sans-serif;font-weight:bold;font-style:normal;font-size:24.000px" fill="#000" stroke="#000" stroke-width="0.5" stroke-linejoin="round">35</text>
<line x1="804.20" y1="10.60" x2="814.30" y2="10.60" stroke="#000" stroke-width="4.3" stroke-linecap="butt"/>
<text transform="translate(775.98,17.01) scale(0.8000,1)" style="font-family:'Liberation Sans', sans-serif;font-weight:bold;font-style:normal;font-size:24.000px" fill="#000" stroke="#000" stroke-width="0.5" stroke-linejoin="round">40</text>
<line x1="809.50" y1="641.91" x2="814.30" y2="641.91" stroke="#000" stroke-width="4.3" stroke-linecap="butt"/>
<line x1="809.50" y1="557.74" x2="814.30" y2="557.74" stroke="#000" stroke-width="4.3" stroke-linecap="butt"/>
<line x1="809.50" y1="473.56" x2="814.30" y2="473.56" stroke="#000" stroke-width="4.3" stroke-linecap="butt"/>
<line x1="809.50" y1="389.39" x2="814.30" y2="389.39" stroke="#000" stroke-width="4.3" stroke-linecap="butt"/>
<line x1="809.50" y1="305.21" x2="814.30" y2="305.21" stroke="#000" stroke-width="4.3" stroke-linecap="butt"/>
<line x1="809.50" y1="221.04" x2="814.30" y2="221.04" stroke="#000" stroke-width="4.3" stroke-linecap="butt"/>
<line x1="809.50" y1="136.86" x2="814.30" y2="136.86" stroke="#000" stroke-width="4.3" stroke-linecap="butt"/>
<line x1="809.50" y1="52.69" x2="814.30" y2="52.69" stroke="#000" stroke-width="4.3" stroke-linecap="butt"/>
<text transform="translate(765.6,404.71) rotate(-90) scale(1.1328,1)" style="font-family:'Liberation Sans', sans-serif;font-weight:bold;font-size:30.3px" stroke="#000" stroke-width="0.5" stroke-linejoin="round">(αhν)</text>
<text transform="translate(749.5,322.0) rotate(-90) scale(1.16,1)" style="font-family:'Liberation Sans', sans-serif;font-weight:bold;font-size:18px" stroke="#000" stroke-width="0.4" stroke-linejoin="round">2</text>
<text transform="translate(1111.08,755.85) scale(0.8545,1)" style="font-family:'Liberation Sans', sans-serif;font-weight:bold;font-style:normal;font-size:32.983px" fill="#000" stroke="#000" stroke-width="0.5" stroke-linejoin="round">h</text>
<text transform="translate(1128.85,756.86) scale(0.8750,1)" style="font-family:'Liberation Serif', serif;font-weight:bold;font-style:normal;font-size:35.200px" fill="#000">ν</text>
<text transform="translate(1151.16,756.29) scale(0.8232,1)" style="font-family:'Liberation Sans', sans-serif;font-weight:bold;font-style:normal;font-size:34.008px" fill="#000" stroke="#000" stroke-width="0.5" stroke-linejoin="round">(eV)</text>
<text transform="translate(1139.86,797.10) scale(0.8872,1)" style="font-family:'Liberation Serif', serif;font-weight:bold;font-style:normal;font-size:34.299px" fill="#000">(ii)</text>
</g>
</svg>
</body></html>
